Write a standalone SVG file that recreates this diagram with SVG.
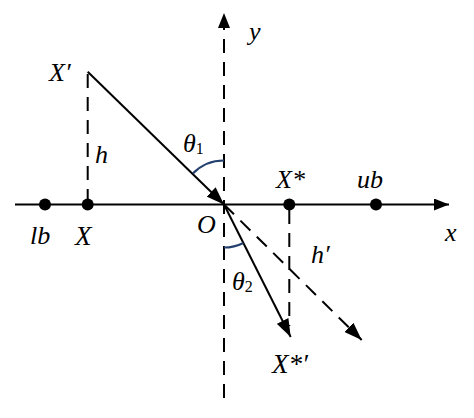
<svg xmlns="http://www.w3.org/2000/svg" width="474" height="418" viewBox="0 0 474 418">
<style>
.ln{stroke:#000;stroke-width:2;fill:none}
.dash{stroke-dasharray:14 9}
.arc{stroke:#24406e;stroke-width:2.2;fill:none}
.dot{fill:#000}
</style>
<defs>
<marker id="ah" viewBox="0 0 15 12" refX="15" refY="6" markerWidth="15" markerHeight="12" markerUnits="userSpaceOnUse" orient="auto">
<path d="M0,0 L15,6 L0,12 z" fill="#000"/>
</marker>
<marker id="ah2" viewBox="0 0 18 13" refX="18" refY="6.5" markerWidth="18" markerHeight="13" markerUnits="userSpaceOnUse" orient="auto">
<path d="M0,0 L18,6.5 L0,13 z" fill="#000"/>
</marker>
</defs>
<g id="connectors">
<line class="ln" x1="15" y1="204.5" x2="449" y2="204.5" marker-end="url(#ah)"/>
<line class="ln dash" x1="224" y1="398" x2="224" y2="13" marker-end="url(#ah)"/>
<line class="ln dash" x1="87.7" y1="74" x2="87.7" y2="204"/>
<line class="ln dash" x1="289.3" y1="210" x2="289.3" y2="326"/>
<line class="ln" x1="87.7" y1="71.7" x2="224" y2="204.5" marker-end="url(#ah2)"/>
<line class="ln" x1="224" y1="204.5" x2="290.7" y2="337" marker-end="url(#ah2)"/>
<line class="ln dash" x1="224" y1="204.5" x2="361.7" y2="340" marker-end="url(#ah2)"/>
<path class="arc" d="M224,160.5 A44,44 0 0 0 192.9,173.4"/>
<path class="arc" d="M224,247.5 A43,43 0 0 0 243.3,242.9"/>
</g>
<g font-family="Liberation Serif, Times New Roman, serif" font-style="italic" font-size="26" fill="#000">
<g id="lb"><circle class="dot" cx="45" cy="204.5" r="6"/><text x="30" y="244">lb</text></g>
<g id="X"><circle class="dot" cx="87.7" cy="204.5" r="6"/><text x="75" y="245" font-size="27">X</text></g>
<g id="Xstar"><circle class="dot" cx="289.3" cy="204.5" r="6"/><text x="276" y="188">X*</text></g>
<g id="ub"><circle class="dot" cx="376" cy="204.5" r="6"/><text x="357" y="188">ub</text></g>
<g id="Xprime"><text x="49" y="81">X′</text></g>
<g id="O"><text x="197" y="233">O</text></g>
<g id="yaxis-label"><text x="249" y="40">y</text></g>
<g id="xaxis-label"><text x="445" y="241">x</text></g>
<g id="h"><text x="95" y="163">h</text></g>
<g id="hprime"><text x="311" y="263">h′</text></g>
<g id="theta1"><text x="183" y="152">θ<tspan font-style="normal" font-size="16" dy="2">1</tspan></text></g>
<g id="theta2"><text x="232" y="290">θ<tspan font-style="normal" font-size="16" dy="2">2</tspan></text></g>
<g id="Xstarprime"><text x="272" y="373" font-size="27">X*′</text></g>
</g>
</svg>
